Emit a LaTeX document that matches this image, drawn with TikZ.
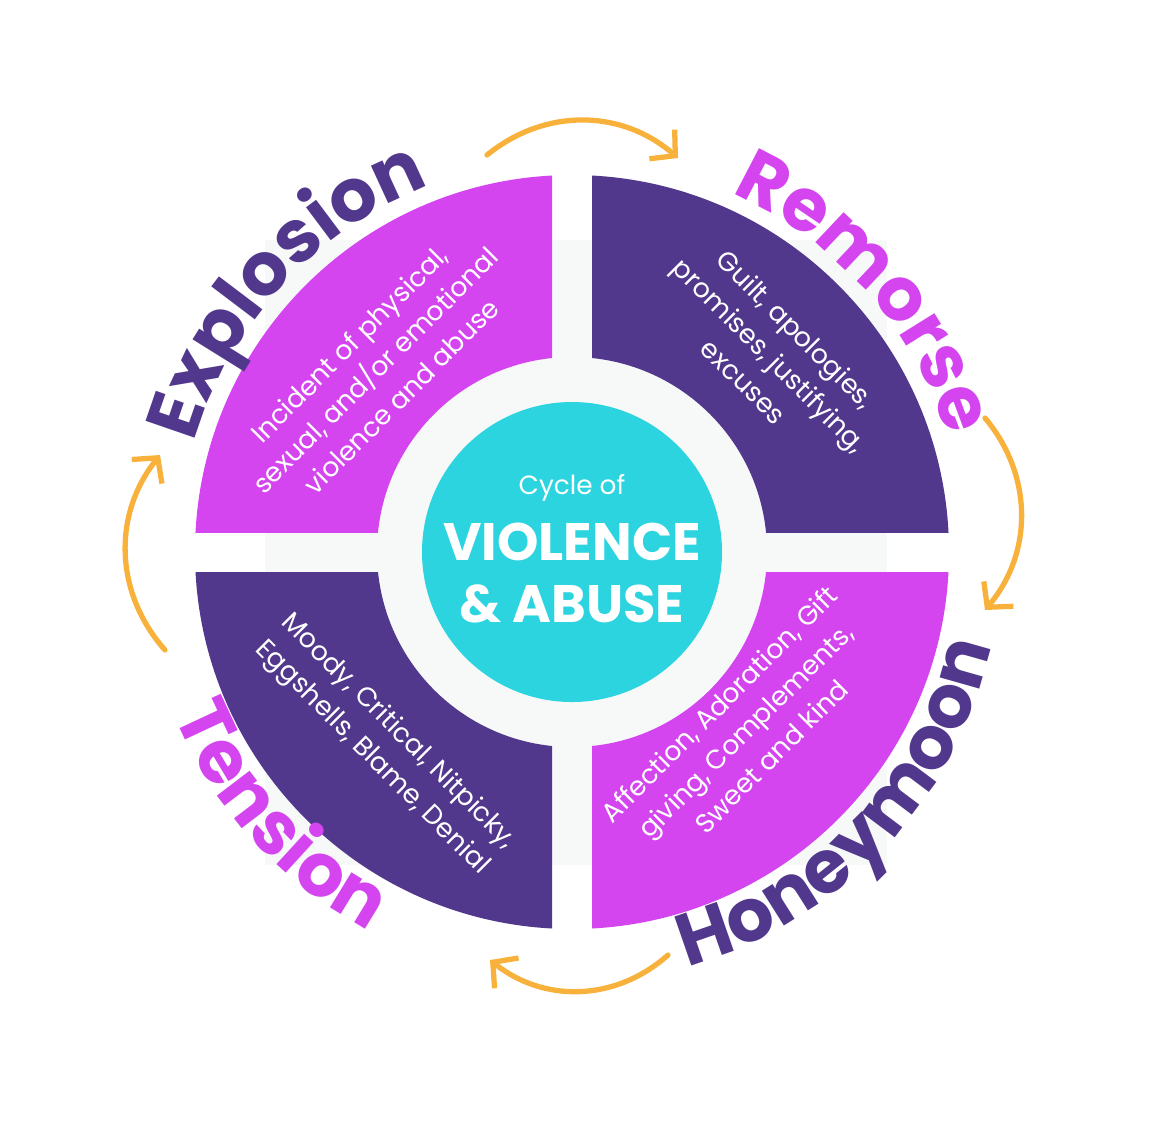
\documentclass[tikz,border=0pt]{standalone}
\usepackage{fontspec}
\setmainfont{Poppins}
\usetikzlibrary{arrows.meta,positioning,decorations.text}
\definecolor{phasepink}{HTML}{D445F0}
\definecolor{phasepurple}{HTML}{52388C}
\definecolor{hubcyan}{HTML}{2CD4E0}
\definecolor{cycleorange}{HTML}{F8B23C}
\definecolor{ringgray}{HTML}{F7F9F9}

\begin{document}
\begin{tikzpicture}[
    body/.style={font=\fontsize{7.6}{10.5}\selectfont, text=white, align=center, inner sep=0pt},
    cyclearrow/.style={draw=cycleorange, line width=1.5pt, line cap=round, -{Straight Barb[length=5pt,width=11pt,line width=1.5pt]}}
]
\useasboundingbox (-5.72,-5.84) rectangle (5.84,5.52);
\fill[white] (-5.72,-5.84) rectangle (5.84,5.52);
\fill[ringgray] (-3.07,-3.13) rectangle (3.15,3.12);

% Quadrants
\foreach \sx/\sy/\col in {-1/1/phasepink, 1/1/phasepurple, 1/-1/phasepink, -1/-1/phasepurple}{
  \begin{scope}
    \clip (\sx*0.2,\sy*0.2) rectangle (\sx*4,\sy*4);
    \fill[\col, even odd rule] (0,0) circle (3.77) (0,0) circle (1.95);
  \end{scope}
}

% Hub
\node[circle, fill=hubcyan, minimum size=3cm, inner sep=0pt] (hub) at (0,0) {};
\node[font=\fontsize{7.5}{8}\selectfont, text=white] (cycleof) at (0,0.64) {Cycle of};
\node[font=\fontsize{15}{16}\selectfont\bfseries, text=white] (violence) at (0,0.1) {VIOLENCE};
\node[font=\fontsize{15}{16}\selectfont\bfseries, text=white] (abuse) at (0,-0.52) {\& ABUSE};

% Phase titles along the ring
\path[decorate, decoration={text along path, text align=center,
  text={|\fontsize{21}{21}\selectfont\bfseries\color{phasepurple}|Explosion}}]
  (163:3.93) arc[start angle=163, end angle=112, radius=3.93];
\path[decorate, decoration={text along path, text align=center,
  text={|\fontsize{21}{21}\selectfont\bfseries\color{phasepink}|Remorse}}]
  (67:3.93) arc[start angle=67, end angle=16, radius=3.93];
\path[decorate, decoration={text along path, text align=center,
  text={|\fontsize{21}{21}\selectfont\bfseries\color{phasepurple}|Honeymoon}}]
  (-76:4.3) arc[start angle=-76, end angle=-11, radius=4.3];
\path[decorate, decoration={text along path, text align=center,
  text={|\fontsize{21}{21}\selectfont\bfseries\color{phasepink}|Tension}}]
  (198:4.3) arc[start angle=198, end angle=246, radius=4.3];

% Phase descriptions
\node[body, rotate=45] (explosiontxt) at (-1.97,1.82) {Incident of physical,\\sexual, and/or emotional\\violence and abuse};
\node[body, rotate=-45] (remorsetxt) at (1.98,1.97) {Guilt, apologies,\\promises, justifying,\\excuses};
\node[body, rotate=45] (honeymoontxt) at (1.73,-1.78) {Affection, Adoration, Gift\\giving, Complements,\\Sweet and kind};
\node[body, rotate=-45] (tensiontxt) at (-1.87,-1.93) {Moody, Critical, Nitpicky,\\Eggshells, Blame, Denial};

% Cycle arrows
\coordinate (topa) at (-0.85,3.97);
\coordinate (topb) at (1.06,3.94);
\coordinate (righta) at (4.13,1.34);
\coordinate (rightb) at (4.13,-0.58);
\coordinate (bottoma) at (0.96,-4.03);
\coordinate (bottomb) at (-0.82,-4.08);
\coordinate (lefta) at (-4.07,-0.98);
\coordinate (leftb) at (-4.12,0.97);
\draw[cyclearrow] (topa) to[bend left=40] (topb);
\draw[cyclearrow] (righta) to[bend left=40] (rightb);
\draw[cyclearrow] (bottoma) to[bend left=40] (bottomb);
\draw[cyclearrow] (lefta) to[bend left=40] (leftb);
\end{tikzpicture}
\end{document}
